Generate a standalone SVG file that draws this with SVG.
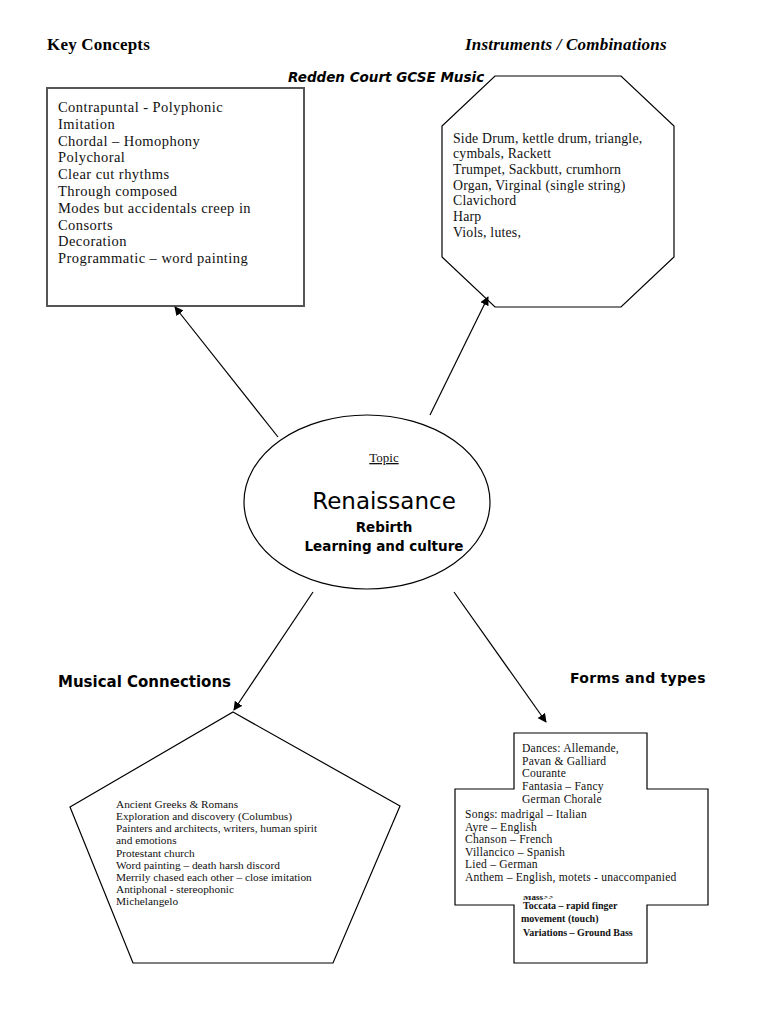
<svg xmlns="http://www.w3.org/2000/svg" width="768" height="1024" viewBox="0 0 768 1024">
<defs>
<marker id="ah" viewBox="0 0 10 10" refX="9" refY="5" markerWidth="9" markerHeight="9" markerUnits="userSpaceOnUse" orient="auto">
<path d="M0,0 L10,5 L0,10 z" fill="#000"/>
</marker>
<clipPath id="massclip"><rect x="515" y="896" width="130" height="8"/></clipPath>
</defs>
<style>
.shape{fill:#fff;stroke:#000;stroke-width:1.2}
.serif{font-family:"Liberation Serif","Times New Roman",serif;fill:#111}
.comic{font-family:"Comic Sans MS","DejaVu Sans",sans-serif;fill:#000}
.head{font-family:"Liberation Serif","Times New Roman",serif;font-weight:bold;font-size:17px;letter-spacing:0.2px;fill:#000}
.conn{stroke:#000;stroke-width:1.2;fill:none;marker-end:url(#ah)}
</style>
<rect width="768" height="1024" fill="#fff"/>

<g id="key-concepts">
<rect x="47" y="88" width="257" height="218" fill="#fff" stroke="#555" stroke-width="2"/>
<text class="serif" font-size="14.5" letter-spacing="0.45">
<tspan x="58" y="112">Contrapuntal - Polyphonic</tspan>
<tspan x="58" y="129">Imitation</tspan>
<tspan x="58" y="146">Chordal – Homophony</tspan>
<tspan x="58" y="162">Polychoral</tspan>
<tspan x="58" y="179">Clear cut rhythms</tspan>
<tspan x="58" y="196">Through composed</tspan>
<tspan x="58" y="213">Modes but accidentals creep in</tspan>
<tspan x="58" y="230">Consorts</tspan>
<tspan x="58" y="246">Decoration</tspan>
<tspan x="58" y="263">Programmatic – word painting</tspan>
</text>
</g>

<g id="instruments">
<polygon class="shape" points="495,76 621,76 674,126 674,257 621,307 495,307 442,257 442,126"/>
<text class="serif" font-size="13.8" letter-spacing="0.2">
<tspan x="453" y="143">Side Drum, kettle drum, triangle,</tspan>
<tspan x="453" y="158">cymbals, Rackett</tspan>
<tspan x="453" y="174">Trumpet, Sackbutt, crumhorn</tspan>
<tspan x="453" y="190">Organ, Virginal (single string)</tspan>
<tspan x="453" y="205">Clavichord</tspan>
<tspan x="453" y="221">Harp</tspan>
<tspan x="453" y="237">Viols, lutes,</tspan>
</text>
</g>

<g id="topic">
<ellipse class="shape" cx="367" cy="502" rx="123" ry="87"/>
<text class="serif" x="384" y="462" font-size="13" text-anchor="middle" text-decoration="underline">Topic</text>
<text class="comic" x="384" y="509" font-size="23" text-anchor="middle">Renaissance</text>
<text class="comic" x="384" y="532" font-size="13.5" font-weight="bold" text-anchor="middle">Rebirth</text>
<text class="comic" x="384" y="551" font-size="13.5" font-weight="bold" text-anchor="middle">Learning and culture</text>
</g>

<g id="musical-connections">
<polygon class="shape" points="233,712 400,806 333,963 133,963 70,807"/>
<text class="serif" font-size="11.3">
<tspan x="116" y="808">Ancient Greeks &amp; Romans</tspan>
<tspan x="116" y="820">Exploration and discovery (Columbus)</tspan>
<tspan x="116" y="832">Painters and architects, writers, human spirit</tspan>
<tspan x="116" y="844">and emotions</tspan>
<tspan x="116" y="857">Protestant church</tspan>
<tspan x="116" y="869">Word painting – death harsh discord</tspan>
<tspan x="116" y="881">Merrily chased each other – close imitation</tspan>
<tspan x="116" y="893">Antiphonal - stereophonic</tspan>
<tspan x="116" y="905">Michelangelo</tspan>
</text>
</g>

<g id="forms-types">
<polygon class="shape" points="514,733 647,733 647,789 708,789 708,905 647,905 647,963 514,963 514,905 455,905 455,789 514,789"/>
<text class="serif" font-size="11.6" letter-spacing="0.2">
<tspan x="522" y="752">Dances: Allemande,</tspan>
<tspan x="522" y="765">Pavan &amp; Galliard</tspan>
<tspan x="522" y="777">Courante</tspan>
<tspan x="522" y="790">Fantasia – Fancy</tspan>
<tspan x="522" y="803">German Chorale</tspan>
<tspan x="465" y="818">Songs: madrigal – Italian</tspan>
<tspan x="465" y="831">Ayre – English</tspan>
<tspan x="465" y="843">Chanson – French</tspan>
<tspan x="465" y="856">Villancico – Spanish</tspan>
<tspan x="465" y="868">Lied – German</tspan>
<tspan x="465" y="881">Anthem – English, motets  - unaccompanied</tspan>
</text>
<text class="serif" x="523" y="900" font-size="9" font-weight="bold" clip-path="url(#massclip)">Mass&gt;&gt;</text>
<text class="serif" font-size="10" font-weight="bold">
<tspan x="523" y="909">Toccata – rapid finger</tspan>
<tspan x="521" y="922">movement (touch)</tspan>
<tspan x="523" y="936">Variations – Ground Bass</tspan>
</text>
</g>

<g id="headings">
<text class="head" x="47" y="50">Key Concepts</text>
<text class="head" x="465" y="50" font-style="italic">Instruments / Combinations</text>
<text class="comic" x="288" y="82" font-size="13.5" font-weight="bold" font-style="italic">Redden Court GCSE Music</text>
<text class="comic" x="58" y="687" font-size="15" font-weight="bold">Musical Connections</text>
<text x="570" y="683" font-family="'DejaVu Sans','Liberation Sans',sans-serif" font-size="14" font-weight="bold" letter-spacing="0.3" fill="#000">Forms and types</text>
</g>

<g id="connectors">
<line class="conn" x1="278" y1="437" x2="175" y2="307"/>
<line class="conn" x1="430" y1="415" x2="488" y2="297"/>
<line class="conn" x1="313" y1="592" x2="234" y2="710"/>
<line class="conn" x1="454" y1="592" x2="546" y2="722"/>
</g>
</svg>
